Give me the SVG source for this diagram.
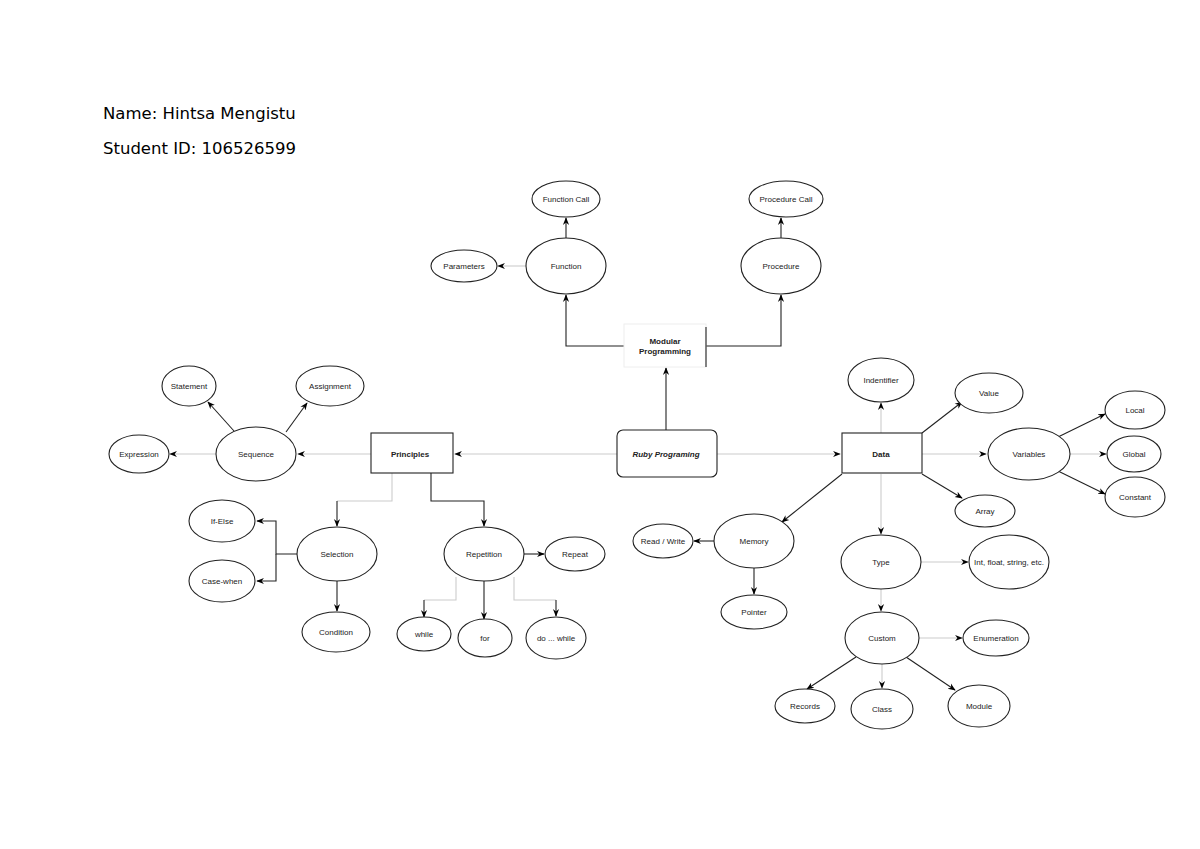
<svg xmlns="http://www.w3.org/2000/svg" width="1200" height="849" viewBox="0 0 1200 849">
<defs>
<marker id="a" viewBox="0 0 10 10" refX="9" refY="5" markerWidth="7" markerHeight="7" orient="auto-start-reverse"><path d="M0,1 L10,5 L0,9 L3,5 Z" fill="#000"/></marker>
</defs>
<style>
.n ellipse{fill:#fff;stroke:#222;stroke-width:1.1}
.b{fill:#fff;stroke:#222;stroke-width:1.1}
text{font-family:"Liberation Sans",Arial,sans-serif;font-size:8px;fill:#222;text-anchor:middle;dominant-baseline:central}
.hd{font-family:"DejaVu Sans",sans-serif;font-size:16.5px;text-anchor:start;dominant-baseline:auto;fill:#000}
.bo{font-weight:bold}
#c path{fill:none;stroke:#222;stroke-width:1.1;marker-end:url(#a)}
#c path.l{stroke:#ccc}
#c path.m{stroke:#ccc;marker-end:none}
</style>
<rect width="1200" height="849" fill="#fff"/>
<text class="hd" x="103" y="119">Name: Hintsa Mengistu</text>
<text class="hd" x="103" y="154">Student ID: 106526599</text>
<g id="c">
<path d="M566,238 V218"/>
<path d="M781,238 V218"/>
<path class="l" d="M526,266 H498"/>
<path d="M624,346 H566 V295"/>
<path d="M706,346 H781 V295"/>
<path d="M666,430 V368"/>
<path class="l" d="M617,454 H455"/>
<path class="l" d="M717,454 H840"/>
<path class="l" d="M371,454 H298"/>
<path class="l" d="M216,454 H170"/>
<path d="M234,431 L208,402"/>
<path d="M286,432 L307,403"/>
<path class="m" d="M392,473 V501 H337"/>
<path d="M337,501 V526"/>
<path d="M431,473 V501 H484 V526"/>
<path d="M297,554 H276 V521 H257"/>
<path d="M276,554 V581 H257"/>
<path d="M337,581 V611"/>
<path d="M524,554 H544"/>
<path d="M484,581 V619"/>
<path class="m" d="M456,577 V600 H424"/>
<path d="M424,600 V617"/>
<path class="m" d="M514,577 V600 H556"/>
<path d="M556,600 V616"/>
<path class="l" d="M881,433 V403"/>
<path d="M922,433 L962,402"/>
<path class="l" d="M922,454 H986"/>
<path d="M922,474 L962,498"/>
<path d="M1058,437 L1105,414"/>
<path class="l" d="M1070,454 H1106"/>
<path d="M1058,471 L1105,494"/>
<path d="M842,474 L782,522"/>
<path d="M714,541 H694"/>
<path d="M754,568 V594"/>
<path class="l" d="M881,474 V534"/>
<path class="l" d="M921,562 H968"/>
<path class="l" d="M881,589 V611"/>
<path class="l" d="M919,638 H962"/>
<path d="M856,657 L807,689"/>
<path class="l" d="M882,664 V688"/>
<path d="M906,657 L955,690"/>
</g>
<g id="function-call" class="n"><ellipse cx="566" cy="199" rx="34" ry="18"/><text x="566" y="199">Function Call</text></g>
<g id="procedure-call" class="n"><ellipse cx="786" cy="199" rx="37" ry="18"/><text x="786" y="199">Procedure Call</text></g>
<g id="parameters" class="n"><ellipse cx="464" cy="266" rx="33" ry="16"/><text x="464" y="266">Parameters</text></g>
<g id="function" class="n"><ellipse cx="566" cy="266" rx="40" ry="28"/><text x="566" y="266">Function</text></g>
<g id="procedure" class="n"><ellipse cx="781" cy="266" rx="40" ry="28"/><text x="781" y="266">Procedure</text></g>
<g id="modular"><rect x="624" y="324" width="82" height="43" fill="#fff" stroke="#eee"/><path d="M706,327 V367" stroke="#222" stroke-width="1.1"/><text class="bo" x="665" y="341">Modular</text><text class="bo" x="665" y="351">Programming</text></g>
<g id="ruby"><rect class="b" x="617" y="430" width="100" height="47" rx="6"/><text class="bo" x="666" y="454" font-style="italic" font-size="10">Ruby Programing</text></g>
<g id="principles"><rect class="b" x="371" y="433" width="82" height="40"/><text class="bo" x="410" y="454">Principles</text></g>
<g id="data"><rect class="b" x="842" y="433" width="80" height="40"/><text class="bo" x="881" y="454">Data</text></g>
<g id="statement" class="n"><ellipse cx="189" cy="386" rx="27" ry="20"/><text x="189" y="386">Statement</text></g>
<g id="assignment" class="n"><ellipse cx="330" cy="386" rx="34" ry="20"/><text x="330" y="386">Assignment</text></g>
<g id="expression" class="n"><ellipse cx="139" cy="454" rx="30" ry="19"/><text x="139" y="454">Expression</text></g>
<g id="sequence" class="n"><ellipse cx="256" cy="454" rx="40" ry="27"/><text x="256" y="454">Sequence</text></g>
<g id="ifelse" class="n"><ellipse cx="222" cy="521" rx="33" ry="21"/><text x="222" y="521">If-Else</text></g>
<g id="casewhen" class="n"><ellipse cx="222" cy="581" rx="33" ry="21"/><text x="222" y="581">Case-when</text></g>
<g id="selection" class="n"><ellipse cx="337" cy="554" rx="40" ry="27"/><text x="337" y="554">Selection</text></g>
<g id="condition" class="n"><ellipse cx="336" cy="632" rx="34" ry="20"/><text x="336" y="632">Condition</text></g>
<g id="repetition" class="n"><ellipse cx="484" cy="554" rx="40" ry="27"/><text x="484" y="554">Repetition</text></g>
<g id="repeat" class="n"><ellipse cx="575" cy="554" rx="30" ry="17"/><text x="575" y="554">Repeat</text></g>
<g id="while" class="n"><ellipse cx="424" cy="634" rx="27" ry="17"/><text x="424" y="634">while</text></g>
<g id="for" class="n"><ellipse cx="485" cy="638" rx="27" ry="19"/><text x="485" y="638">for</text></g>
<g id="dowhile" class="n"><ellipse cx="556" cy="638" rx="30" ry="21"/><text x="556" y="638">do ... while</text></g>
<g id="identifier" class="n"><ellipse cx="881" cy="380" rx="33" ry="22"/><text x="881" y="380">Indentifier</text></g>
<g id="value" class="n"><ellipse cx="989" cy="393" rx="34" ry="20"/><text x="989" y="393">Value</text></g>
<g id="variables" class="n"><ellipse cx="1029" cy="454" rx="41" ry="26"/><text x="1029" y="454">Variables</text></g>
<g id="local" class="n"><ellipse cx="1135" cy="410" rx="30" ry="19"/><text x="1135" y="410">Local</text></g>
<g id="global" class="n"><ellipse cx="1134" cy="454" rx="27" ry="18"/><text x="1134" y="454">Global</text></g>
<g id="constant" class="n"><ellipse cx="1135" cy="497" rx="30" ry="20"/><text x="1135" y="497">Constant</text></g>
<g id="array" class="n"><ellipse cx="985" cy="511" rx="30" ry="16"/><text x="985" y="511">Array</text></g>
<g id="memory" class="n"><ellipse cx="754" cy="541" rx="40" ry="27"/><text x="754" y="541">Memory</text></g>
<g id="readwrite" class="n"><ellipse cx="663" cy="541" rx="30" ry="17"/><text x="663" y="541">Read / Write</text></g>
<g id="pointer" class="n"><ellipse cx="754" cy="612" rx="33" ry="17"/><text x="754" y="612">Pointer</text></g>
<g id="type" class="n"><ellipse cx="881" cy="562" rx="40" ry="27"/><text x="881" y="562">Type</text></g>
<g id="intfloat" class="n"><ellipse cx="1009" cy="562" rx="40" ry="27"/><text x="1009" y="562">Int, float, string, etc.</text></g>
<g id="custom" class="n"><ellipse cx="882" cy="638" rx="37" ry="26"/><text x="882" y="638">Custom</text></g>
<g id="enumeration" class="n"><ellipse cx="996" cy="638" rx="33" ry="18"/><text x="996" y="638">Enumeration</text></g>
<g id="records" class="n"><ellipse cx="805" cy="706" rx="30" ry="17"/><text x="805" y="706">Records</text></g>
<g id="class" class="n"><ellipse cx="882" cy="709" rx="31" ry="20"/><text x="882" y="709">Class</text></g>
<g id="module" class="n"><ellipse cx="979" cy="706" rx="31" ry="21"/><text x="979" y="706">Module</text></g>
</svg>
